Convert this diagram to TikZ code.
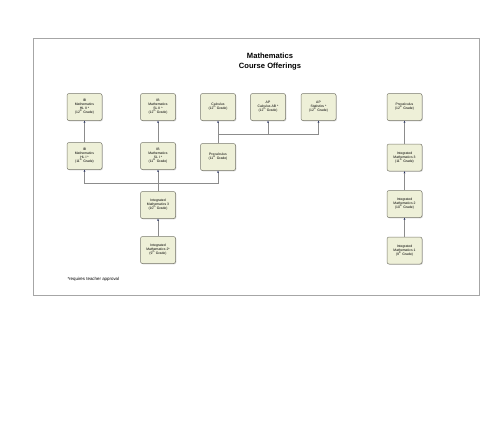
\documentclass[tikz,border=0pt]{standalone}
\usepackage{fontspec}
\setmainfont{Liberation Sans}
\usepackage{tikz}
\usetikzlibrary{arrows.meta}
\usetikzlibrary{positioning,calc,shadows}
\definecolor{nodefill}{HTML}{EEF0D8}
\definecolor{nodeline}{HTML}{77776A}
\definecolor{linkgray}{HTML}{8C8C8C}
\definecolor{tipblue}{HTML}{1F2A5C}
\tikzset{
    course/.style={
        draw=nodeline,
        fill=nodefill,
        rounded corners=2pt,
        line width=0.5pt,
        minimum width=35pt,
        minimum height=27pt,
        inner sep=1pt,
        align=center,
        drop shadow={shadow xshift=0.8pt, shadow yshift=-0.8pt, fill=black!30},
        font=\fontsize{3.4}{3.9}\selectfont
    },
    link/.style={
        draw=linkgray,
        line width=0.5pt,
        -{Stealth[length=2.2pt, width=1.8pt, color=tipblue]}
    }
}

\begin{document}
\begin{tikzpicture}[x=1pt,y=-1pt]
    \useasboundingbox (0,0) rectangle (500,445);
    % Frame and title
    \draw[draw=black!35, line width=0.5pt] (33,38) rectangle (479,295);
    \node[align=center, font=\fontsize{7.6}{10}\selectfont\bfseries] (title) at (270,61.5) {Mathematics\\Course Offerings};
    
    % Courses, left chart
    \node[course] (ibhl2) at (84.5,107) {IB\\Mathematics\\HL II *\\(12\textsuperscript{th} Grade)};
    \node[course] (ibhl1) at (84.5,156) {IB\\Mathematics\\HL I *\\(11\textsuperscript{th} Grade)};
    \node[course] (ibsl2) at (158,107) {IB\\Mathematics\\SL II *\\(12\textsuperscript{th} Grade)};
    \node[course] (ibsl1) at (158,156) {IB\\Mathematics\\SL I *\\(11\textsuperscript{th} Grade)};
    \node[course] (calc) at (218,107) {Calculus\\(12\textsuperscript{th} Grade)};
    \node[course] (apcalc) at (268,107) {AP\\Calculus AB *\\(12\textsuperscript{th} Grade)};
    \node[course] (apstat) at (318.5,107) {AP\\Statistics *\\(12\textsuperscript{th} Grade)};
    \node[course] (pre) at (218,157) {Precalculus\\(11\textsuperscript{th} Grade)};
    \node[course] (im3) at (158,205) {Integrated\\Mathematics 3\\(10\textsuperscript{th} Grade)};
    \node[course] (im2) at (158,250) {Integrated\\Mathematics 2*\\(9\textsuperscript{th} Grade)};
    
    % Courses, right chart
    \node[course] (rpre) at (404.5,107) {Precalculus\\(12\textsuperscript{th} Grade)};
    \node[course] (rim3) at (404.5,157.5) {Integrated\\Mathematics 3\\(11\textsuperscript{th} Grade)};
    \node[course] (rim2) at (404.5,204) {Integrated\\Mathematics 2\\(10\textsuperscript{th} Grade)};
    \node[course] (rim1) at (404.5,250.5) {Integrated\\Mathematics 1\\(9\textsuperscript{th} Grade)};
    
    \node[anchor=west, font=\fontsize{4.4}{5}\selectfont] (note) at (64,279) {*requires teacher approval};
    
    % Junctions
    \coordinate (jtop) at (218,134);
    \coordinate (jbot) at (158,183);
    
    % Links
    \draw[link] (ibhl1) -- (ibhl2);
    \draw[link] (ibsl1) -- (ibsl2);
    \draw[link] (pre) -- (calc);
    \draw[link] (jtop) -| (apcalc);
    \draw[link] (jtop) -| (apstat);
    \draw[link] (im3) -- (ibsl1);
    \draw[link] (jbot) -| (ibhl1);
    \draw[link] (jbot) -| (pre);
    \draw[link] (im2) -- (im3);
    \draw[link] (rim1) -- (rim2);
    \draw[link] (rim2) -- (rim3);
    \draw[link] (rim3) -- (rpre);
\end{tikzpicture}
\end{document}
